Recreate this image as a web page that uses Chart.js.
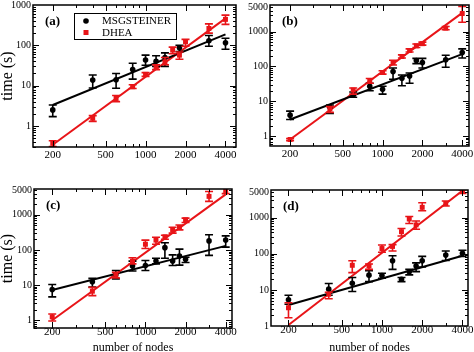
<!DOCTYPE html>
<html>
<head>
<meta charset="utf-8">
<script src="https://cdn.jsdelivr.net/npm/chart.js@4/dist/chart.umd.min.js"></script>
<style>
  html, body { margin: 0; padding: 0; background: #fff; overflow: hidden; }
  body { width: 474px; height: 352px; position: relative; }
  canvas { position: absolute; }
</style>
</head>
<body>
<canvas id="pa" width="240" height="176" style="left:0;top:0"></canvas>
<canvas id="pb" width="237" height="176" style="left:237px;top:0"></canvas>
<canvas id="pc" width="240" height="180" style="left:0;top:176px"></canvas>
<canvas id="pd" width="237" height="180" style="left:237px;top:176px"></canvas>
<script>
// number of nodes on the x axis
const nodes = [200, 400, 600, 800, 1000, 1200, 1400, 1600, 1800, 2000, 3000, 4000]
const fitX = [200, 4000]
const xTicks = [200, 500, 1000, 2000, 4000]
const xMinor = [300, 400, 600, 700, 800, 900, 3000]

// panel (a)
const msgA = [2.5, 13.7, 14, 25, 43, 40, 50, null, 87, null, 130, 115]
const msgALo = [1.7, 8.7, 8.6, 14.5, 32, 30, 30, null, 70, null, 95, 80]
const msgAHi = [3.3, 18.3, 20, 36, 57, 55, 65, null, 100, null, 175, 150]
const dheaA = [0.37, 1.55, 4.8, 9.4, 19, 29, 39, 76, 57, 122, 262, 440]
const dheaALo = [0.31, 1.3, 4, 8.5, 17, 25, 33, 62, 45, 95, 200, 330]
const dheaAHi = [0.43, 1.8, 5.7, 10.5, 21, 33, 50, 90, 68, 140, 340, 560]
const fitMsgA = [3.3, 186]
const fitDheaA = [0.34, 465]

// panel (b)
const msgB = [4.0, 6.7, 15, 27, 22, 71, 46, 53, 148, 130, 155, 250]
const msgBLo = [3.0, 4.5, 13, 20, 16, 43, 28, 33, 120, 90, 95, 175]
const msgBHi = [5.2, 7.8, 18.5, 33, 27, 90, 57, 65, 170, 170, 210, 320]
const dheaB = [0.8, 6.0, 21, 39, 67, 130, 193, 287, 390, 450, 1260, 3300]
const dheaBLo = [0.74, 4.8, 16, 33, 60, 110, 175, 260, 350, 410, 1130, 1850]
const dheaBHi = [0.85, 7, 24, 45, 75, 150, 215, 320, 440, 500, 1400, 5300]
const fitMsgB = [3.0, 226]
const fitDheaB = [0.8, 3450]

// panel (c)
const msgC = [7.5, 12.4, 20, 35, 36, 48, 116, 48, 67, 54, 180, 192]
const msgCLo = [4.6, 8.8, 15, 25, 26, 40, 58, 36, 37, 44, 70, 120]
const msgCHi = [10.4, 15.5, 26, 48, 50, 58, 160, 72, 105, 62, 270, 250]
const dheaC = [1.24, 6.7, 20, 48, 145, 190, 235, 365, 435, 720, 3330, 4900]
const dheaCLo = [0.95, 5, 16, 40, 110, 145, 200, 300, 370, 600, 2400, 4000]
const dheaCHi = [1.5, 8.6, 23, 60, 190, 230, 260, 440, 510, 800, 4600, 6000]
const fitMsgC = [7.2, 130]
const fitDheaC = [1.0, 3800]

// panel (d)
const msgD = [5.3, 10.5, 15.3, 25.6, 25, 64, 19.8, 31.6, 46, 64, 92, 104]
const msgDLo = [4.0, 7.1, 9, 17, 21, 37, 17, 26, 32, 43, 65, 85]
const msgDHi = [7.1, 15, 22, 34, 29, 88, 22, 37, 56, 85, 120, 125]
const dheaD = [3.2, 7.6, 48, 46, 140, 160, 410, 920, 630, 1940, 2470, 5300]
const dheaDLo = [1.7, 5.7, 30, 37, 110, 120, 310, 690, 480, 1550, 2100, 4700]
const dheaDHi = [4.4, 8.6, 64, 52, 175, 180, 500, 1080, 810, 2600, 2900, 5900]
const fitMsgD = [3.8, 88]
const fitDheaD = [1.07, 5600]

const serif = "'Liberation Serif', 'Times New Roman', serif"
const black = '#000000'
const red = 'rgb(232, 20, 24)'

const toPoints = (xs, ys) => xs.map((x, i) => ({ x, y: ys[i] }))

// vertical error bars, drawn just under their own markers
const errorBars = {
  id: 'errorBars',
  beforeDatasetDraw(chart, args) {
    const ds = chart.data.datasets[args.index]
    if (!ds.errLo) return
    const { ctx, chartArea: a, scales: { x, y } } = chart
    ctx.save()
    ctx.beginPath()
    ctx.rect(a.left, a.top, a.right - a.left, a.bottom - a.top)
    ctx.clip()
    ctx.strokeStyle = ds.borderColor
    ctx.lineWidth = 1.6
    ctx.beginPath()
    nodes.forEach((n, i) => {
      if (ds.errLo[i] == null) return
      const px = x.getPixelForValue(n)
      const lo = y.getPixelForValue(ds.errLo[i])
      const hi = y.getPixelForValue(ds.errHi[i])
      ctx.moveTo(px, lo); ctx.lineTo(px, hi)
      ctx.moveTo(px - 4, lo); ctx.lineTo(px + 4, lo)
      ctx.moveTo(px - 4, hi); ctx.lineTo(px + 4, hi)
    })
    ctx.stroke()
    ctx.restore()
  }
}

// box, inward ticks, panel tag and legend
const frame = {
  id: 'frame',
  afterDraw(chart, args, opts) {
    const { ctx, chartArea: a, scales: { x, y } } = chart
    ctx.save()
    ctx.strokeStyle = black
    ctx.lineWidth = 1
    ctx.beginPath()
    const tickX = (v, len) => {
      const px = Math.round(x.getPixelForValue(v)) + 0.5
      ctx.moveTo(px, a.bottom); ctx.lineTo(px, a.bottom - len)
      ctx.moveTo(px, a.top); ctx.lineTo(px, a.top + len)
    }
    const tickY = (v, len) => {
      const py = Math.round(y.getPixelForValue(v)) + 0.5
      ctx.moveTo(a.left, py); ctx.lineTo(a.left + len, py)
      ctx.moveTo(a.right, py); ctx.lineTo(a.right - len, py)
    }
    xTicks.forEach(v => tickX(v, 6))
    xMinor.forEach(v => tickX(v, 3))
    for (let e = Math.floor(Math.log10(y.min)); e <= Math.ceil(Math.log10(y.max)); e++) {
      for (let k = 1; k <= 9; k++) {
        const v = k * Math.pow(10, e)
        if (v > y.min && v < y.max) tickY(v, k === 1 ? 6 : 3)
      }
    }
    ctx.stroke()
    ctx.lineWidth = 1.5
    ctx.strokeRect(a.left, a.top, a.right - a.left, a.bottom - a.top)

    ctx.fillStyle = black
    ctx.font = 'bold 13px ' + serif
    ctx.textBaseline = 'middle'
    ctx.textAlign = 'left'
    ctx.fillText(opts.tag, a.left + 12, a.top + 17)

    if (opts.legend) {
      const lx = a.left + 41, ly = a.top + 8
      ctx.lineWidth = 1
      ctx.strokeRect(lx + 0.5, ly + 0.5, 102, 26)
      ctx.beginPath()
      ctx.arc(lx + 12, ly + 8, 2.8, 0, Math.PI * 2)
      ctx.fill()
      ctx.fillStyle = red
      ctx.fillRect(lx + 9.5, ly + 17, 5, 5)
      ctx.fillStyle = black
      ctx.font = '11px ' + serif
      ctx.fillText('MSGSTEINER', lx + 28, ly + 8.5)
      ctx.fillText('DHEA', lx + 28, ly + 20)
    }
    ctx.restore()
  }
}

const panels = [
  { id: 'pa', tag: '(a)', legend: true, yTitle: true, xTitle: false,
    msg: msgA, msgLo: msgALo, msgHi: msgAHi, dhea: dheaA, dheaLo: dheaALo, dheaHi: dheaAHi,
    fitMsg: fitMsgA, fitDhea: fitDheaA,
    xMin: 142, xMax: 4800, yMin: 0.3, yMax: 1000, yTicks: [1, 10, 100, 1000],
    pad: { left: 0, right: 3, top: 5, bottom: 0 }, yW: 33, xH: 29, xPad: 2 },
  { id: 'pb', tag: '(b)', legend: false, yTitle: false, xTitle: false,
    msg: msgB, msgLo: msgBLo, msgHi: msgBHi, dhea: dheaB, dheaLo: dheaBLo, dheaHi: dheaBHi,
    fitMsg: fitMsgB, fitDhea: fitDheaB,
    xMin: 141, xMax: 4500, yMin: 0.52, yMax: 5800, yTicks: [1, 10, 100, 1000, 5000],
    pad: { left: 0, right: 5, top: 5, bottom: 0 }, yW: 33, xH: 30, xPad: 2 },
  { id: 'pc', tag: '(c)', legend: false, yTitle: true, xTitle: true,
    msg: msgC, msgLo: msgCLo, msgHi: msgCHi, dhea: dheaC, dheaLo: dheaCLo, dheaHi: dheaCHi,
    fitMsg: fitMsgC, fitDhea: fitDheaC,
    xMin: 146, xMax: 4460, yMin: 0.6, yMax: 5400, yTicks: [1, 10, 100, 1000, 5000],
    pad: { left: 0, right: 8, top: 13, bottom: 1 }, yW: 34, xH: 27, xPad: -2 },
  { id: 'pd', tag: '(d)', legend: false, yTitle: false, xTitle: true,
    msg: msgD, msgLo: msgDLo, msgHi: msgDHi, dhea: dheaD, dheaLo: dheaDLo, dheaHi: dheaDHi,
    fitMsg: fitMsgD, fitDhea: fitDheaD,
    xMin: 148, xMax: 4400, yMin: 1, yMax: 5850, yTicks: [1, 10, 100, 1000, 5000],
    pad: { left: 0, right: 6, top: 14, bottom: 1 }, yW: 34, xH: 29, xPad: -2 }
]

panels.forEach(p => {
  new Chart(document.getElementById(p.id), {
    type: 'scatter',
    data: {
      datasets: [
        { data: toPoints(nodes, p.msg), errLo: p.msgLo, errHi: p.msgHi,
          pointStyle: 'circle', pointRadius: 2.8, borderWidth: 0,
          backgroundColor: black, borderColor: black, order: 2 },
        { data: toPoints(nodes, p.dhea), errLo: p.dheaLo, errHi: p.dheaHi,
          pointStyle: 'rect', pointRadius: 3.5, borderWidth: 0,
          backgroundColor: red, borderColor: red, order: 1 },
        { data: toPoints(fitX, p.fitMsg), showLine: true, pointRadius: 0,
          borderColor: black, borderWidth: 2, order: 3 },
        { data: toPoints(fitX, p.fitDhea), showLine: true, pointRadius: 0,
          borderColor: red, borderWidth: 2, order: 3 }
      ]
    },
    options: {
      responsive: false,
      animation: false,
      events: [],
      layout: { padding: p.pad },
      plugins: {
        legend: { display: false },
        tooltip: { enabled: false },
        frame: { tag: p.tag, legend: p.legend }
      },
      scales: {
        x: {
          type: 'logarithmic', min: p.xMin, max: p.xMax,
          afterBuildTicks: s => { s.ticks = xTicks.map(v => ({ value: v })) },
          afterFit: s => { s.height = p.xH; s.paddingLeft = 0; s.paddingRight = 0 },
          grid: { display: false, drawTicks: false }, border: { display: false },
          ticks: { color: black, font: { family: serif, size: 11 }, padding: p.xPad,
                   maxRotation: 0, autoSkip: false, callback: v => String(v) },
          title: { display: p.xTitle, text: 'number of nodes', color: black,
                   font: { family: serif, size: 12 }, padding: 0 }
        },
        y: {
          type: 'logarithmic', min: p.yMin, max: p.yMax,
          afterBuildTicks: s => { s.ticks = p.yTicks.map(v => ({ value: v })) },
          afterFit: s => { s.width = p.yW; s.paddingTop = 0; s.paddingBottom = 0 },
          grid: { display: false, drawTicks: false }, border: { display: false },
          ticks: { color: black, font: { family: serif, size: 10 }, padding: 2,
                   autoSkip: false, callback: v => String(v) },
          title: { display: p.yTitle, text: 'time (s)', color: black,
                   font: { family: serif, size: 16, lineHeight: 1 }, padding: { top: 0, bottom: 0 } }
        }
      }
    },
    plugins: [errorBars, frame]
  })
})
</script>
</body>
</html>
